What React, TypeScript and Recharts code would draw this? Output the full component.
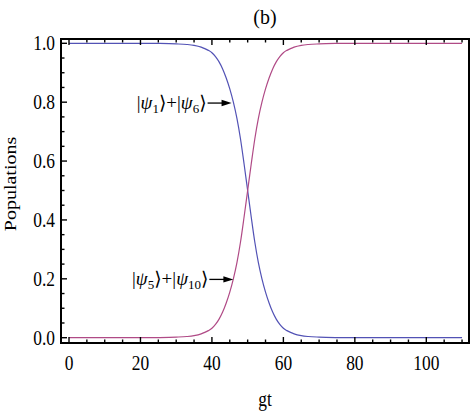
import React from "react";
import { LineChart, Line, XAxis, YAxis, ReferenceDot } from "recharts";

// gt values and the two populations
const gt = [
  0, 5, 10, 15, 20, 25, 30, 33, 35, 37, 38, 39, 40, 41, 42, 43, 44, 45, 46, 47,
  48, 49, 50, 51, 52, 53, 54, 55, 56, 57, 58, 59, 60, 61, 62, 63, 65, 67, 70,
  75, 80, 85, 90, 95, 100, 105, 110,
];
const psi1psi6 = [
  1, 1, 1, 1, 1, 0.9995, 0.998, 0.996, 0.993, 0.987, 0.982, 0.976, 0.968,
  0.955, 0.937, 0.913, 0.882, 0.845, 0.8, 0.745, 0.675, 0.59, 0.5, 0.41, 0.325,
  0.255, 0.2, 0.155, 0.118, 0.087, 0.063, 0.045, 0.032, 0.024, 0.018, 0.013,
  0.007, 0.004, 0.002, 0.0005, 0, 0, 0, 0, 0, 0, 0,
];
const psi5psi10 = [
  0, 0, 0, 0, 0, 0.0005, 0.002, 0.004, 0.007, 0.013, 0.018, 0.024, 0.032,
  0.045, 0.063, 0.087, 0.118, 0.155, 0.2, 0.255, 0.325, 0.41, 0.5, 0.59, 0.675,
  0.745, 0.8, 0.845, 0.882, 0.913, 0.937, 0.955, 0.968, 0.976, 0.982, 0.987,
  0.993, 0.996, 0.998, 0.9995, 1, 1, 1, 1, 1, 1, 1,
];

const xMajor = [0, 20, 40, 60, 80, 100];
const xMinor = [5, 10, 15, 25, 30, 35, 45, 50, 55, 65, 70, 75, 85, 90, 95, 105, 110];
const yMajor = [0, 0.2, 0.4, 0.6, 0.8, 1];
const yMinor = [
  0.05, 0.1, 0.15, 0.25, 0.3, 0.35, 0.45, 0.5, 0.55, 0.65, 0.7, 0.75, 0.85, 0.9,
  0.95,
];

const data = gt.map((x, i) => ({ gt: x, a: psi1psi6[i], b: psi5psi10[i] }));
const xTicks = [...xMajor, ...xMinor].sort((p, q) => p - q);
const yTicks = [...yMajor, ...yMinor].sort((p, q) => p - q);

const X_DOMAIN = [-2.24, 111.95];
const Y_DOMAIN = [-0.018, 1.0146];
const SERIF = "Liberation Serif, DejaVu Serif, serif";
const BLUE = "#5252b5";
const RED = "#b04a86";
const MAJOR = 6;
const MINOR = 3.5;

const frame = { stroke: "#000", strokeWidth: 2, strokeLinecap: "square" };

function Txt({ x, y, children, anchor = "middle", size = 20, sx = 0.87, rotate = 0 }: any) {
  const t = `translate(${x},${y}) scale(${sx},1)` + (rotate ? ` rotate(${rotate})` : "");
  return (
    <text
      transform={t}
      textAnchor={anchor}
      style={{ fontFamily: SERIF, fontSize: size }}
      fill="#000"
      stroke="none"
    >
      {children}
    </text>
  );
}

const isMajor = (list: number[], v: number) => list.some((m) => Math.abs(m - v) < 1e-9);

// one tick on any side: inward tick line, label only on bottom/left majors
function Tick(props: any) {
  const { x, y, payload, side } = props;
  const v = payload.value;
  const major = isMajor(side === "bottom" || side === "top" ? xMajor : yMajor, v);
  const len = major ? MAJOR : MINOR;
  let line;
  if (side === "bottom") line = { x1: x, x2: x, y1: y, y2: y - len };
  else if (side === "top") line = { x1: x, x2: x, y1: y, y2: y + len };
  else if (side === "left") line = { x1: x, x2: x + len, y1: y, y2: y };
  else line = { x1: x, x2: x - len, y1: y, y2: y };
  return (
    <g>
      <line {...line} stroke="#000" strokeWidth={1.4} />
      {major && side === "bottom" && <Txt x={x} y={y + 27}>{String(v)}</Txt>}
      {major && side === "left" && (
        <Txt x={x - 6} y={y + 7} anchor="end">
          {Number(v).toFixed(1)}
        </Txt>
      )}
    </g>
  );
}

function Ket({ n }: { n: string }) {
  return (
    <>
      <tspan>|</tspan>
      <tspan fontStyle="italic">ψ</tspan>
      <tspan fontSize={13} dy={4}>{n}</tspan>
      <tspan dy={-4}>⟩</tspan>
    </>
  );
}

function KetArrow({ cx, cy, a, b }: any) {
  const tail = cx - 24;
  return (
    <g>
      <line x1={tail} y1={cy} x2={cx - 8} y2={cy} stroke="#000" strokeWidth={1.3} />
      <path d={`M${cx},${cy} L${cx - 10},${cy - 3.2} L${cx - 10},${cy + 3.2} Z`} fill="#000" />
      <text
        x={tail - 1}
        y={cy + 6}
        textAnchor="end"
        style={{ fontFamily: SERIF, fontSize: 19 }}
        fill="#000"
      >
        <Ket n={a} />
        <tspan>+</tspan>
        <Ket n={b} />
      </text>
    </g>
  );
}

const common = {
  type: "number" as const,
  interval: 0 as const,
  tickSize: 0,
  tickMargin: 0,
  tickLine: false,
  axisLine: frame,
};

export default function App() {
  return (
    <div style={{ position: "absolute", left: 0, top: 0, background: "#fff" }}>
      <LineChart
        width={471}
        height={415}
        data={data}
        margin={{ top: 38, right: 1, bottom: 42, left: 0 }}
      >
        <XAxis
          {...common}
          xAxisId="b"
          dataKey="gt"
          domain={X_DOMAIN}
          ticks={xTicks}
          height={30}
          tick={(p: any) => <Tick {...p} side="bottom" />}
          label={(p: any) => {
            const vb = p.viewBox || { x: 61, y: 343, width: 408 };
            return <Txt x={vb.x + vb.width / 2} y={vb.y + 63}>gt</Txt>;
          }}
        />
        <XAxis
          {...common}
          xAxisId="t"
          orientation="top"
          dataKey="gt"
          domain={X_DOMAIN}
          ticks={xTicks}
          height={1}
          tick={(p: any) => <Tick {...p} side="top" />}
          label={(p: any) => {
            const vb = p.viewBox || { x: 61, y: 38, width: 408, height: 1 };
            return (
              <Txt x={vb.x + vb.width / 2} y={vb.y + vb.height - 15} size={21} sx={0.95}>
                (b)
              </Txt>
            );
          }}
        />
        <YAxis
          {...common}
          yAxisId="l"
          domain={Y_DOMAIN}
          ticks={yTicks}
          width={61}
          tick={(p: any) => <Tick {...p} side="left" />}
          label={(p: any) => {
            const vb = p.viewBox || { x: 0, y: 39, width: 61, height: 304 };
            return (
              <Txt x={vb.x + vb.width - 45} y={vb.y + vb.height / 2 - 7} rotate={-90}>
                Populations
              </Txt>
            );
          }}
        />
        <YAxis
          {...common}
          yAxisId="r"
          orientation="right"
          domain={Y_DOMAIN}
          ticks={yTicks}
          width={1}
          tick={(p: any) => <Tick {...p} side="right" />}
        />
        <Line
          xAxisId="b"
          yAxisId="l"
          type="monotone"
          dataKey="a"
          stroke={BLUE}
          strokeWidth={1.2}
          dot={false}
          isAnimationActive={false}
        />
        <Line
          xAxisId="b"
          yAxisId="l"
          type="monotone"
          dataKey="b"
          stroke={RED}
          strokeWidth={1.2}
          dot={false}
          isAnimationActive={false}
        />
        <ReferenceDot
          xAxisId="b"
          yAxisId="l"
          x={45.5}
          y={0.797}
          r={0}
          shape={(p: any) => <KetArrow cx={p.cx} cy={p.cy} a="1" b="6" />}
        />
        <ReferenceDot
          xAxisId="b"
          yAxisId="l"
          x={46}
          y={0.198}
          r={0}
          shape={(p: any) => <KetArrow cx={p.cx} cy={p.cy} a="5" b="10" />}
        />
      </LineChart>
    </div>
  );
}
